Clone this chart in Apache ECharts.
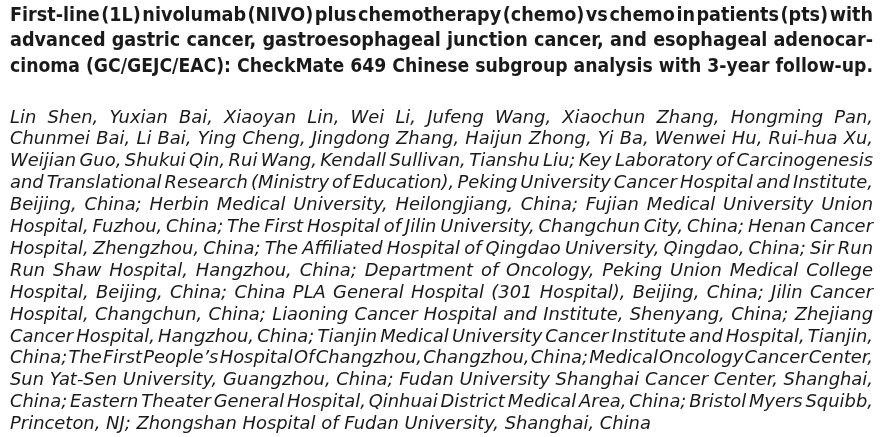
<!DOCTYPE html>
<html><head><meta charset="utf-8">
<script src="https://cdn.jsdelivr.net/npm/echarts@6/dist/echarts.min.js"></script>
<style>html,body{margin:0;padding:0;background:#fff}#c{width:883px;height:437px}</style>
</head><body><div id="c"></div>
<script>
var titleLines = [
"First-line (1L) nivolumab (NIVO) plus chemotherapy (chemo) vs chemo in patients (pts) with",
"advanced gastric cancer, gastroesophageal junction cancer, and esophageal adenocar-",
"cinoma (GC/GEJC/EAC): CheckMate 649 Chinese subgroup analysis with 3-year follow-up."
];
var bodyLines = [
"Lin Shen, Yuxian Bai, Xiaoyan Lin, Wei Li, Jufeng Wang, Xiaochun Zhang, Hongming Pan,",
"Chunmei Bai, Li Bai, Ying Cheng, Jingdong Zhang, Haijun Zhong, Yi Ba, Wenwei Hu, Rui-hua Xu,",
"Weijian Guo, Shukui Qin, Rui Wang, Kendall Sullivan, Tianshu Liu; Key Laboratory of Carcinogenesis",
"and Translational Research (Ministry of Education), Peking University Cancer Hospital and Institute,",
"Beijing, China; Herbin Medical University, Heilongjiang, China; Fujian Medical University Union",
"Hospital, Fuzhou, China; The First Hospital of Jilin University, Changchun City, China; Henan Cancer",
"Hospital, Zhengzhou, China; The Affiliated Hospital of Qingdao University, Qingdao, China; Sir Run",
"Run Shaw Hospital, Hangzhou, China; Department of Oncology, Peking Union Medical College",
"Hospital, Beijing, China; China PLA General Hospital (301 Hospital), Beijing, China; Jilin Cancer",
"Hospital, Changchun, China; Liaoning Cancer Hospital and Institute, Shenyang, China; Zhejiang",
"Cancer Hospital, Hangzhou, China; Tianjin Medical University Cancer Institute and Hospital, Tianjin,",
"China; The First People\u2019s Hospital Of Changzhou, Changzhou, China; Medical Oncology Cancer Center,",
"Sun Yat-Sen University, Guangzhou, China; Fudan University Shanghai Cancer Center, Shanghai,",
"China; Eastern Theater General Hospital, Qinhuai District Medical Area, China; Bristol Myers Squibb,",
"Princeton, NJ; Zhongshan Hospital of Fudan University, Shanghai, China"
];
var FAM = '"Liberation Sans Narrow","DejaVu Sans Condensed","Liberation Sans",sans-serif';
var titleFont = 'bold 19px ' + FAM, bodyFont = 'italic 17.5px ' + FAM;
var L = 10, R = 873;
var cv = document.createElement('canvas').getContext('2d');
function layout(lines, font, y0, dy, color) {
  cv.font = font;
  var sp = cv.measureText(' ').width;
  var info = lines.map(function(line){
    var ws = line.split(' ');
    var widths = ws.map(function(w){ return cv.measureText(w).width; });
    var tot = widths.reduce(function(a,b){return a+b;},0);
    return {ws:ws, widths:widths, tot:tot, nat: tot + sp*(ws.length-1)};
  });
  var scales = info.slice(0,-1).map(function(o){ return (R-L)/o.nat; }).sort(function(a,b){return a-b;});
  var med = scales[Math.floor(scales.length/2)];
  var out = [];
  info.forEach(function(o, i){
    var last = i === info.length-1;
    var s = last ? Math.min(med, (R-L)/o.nat) : med;
    var gap = last ? sp*s : ((R-L) - o.tot*s)/(o.ws.length-1);
    var x = L, y = y0 + i*dy;
    o.ws.forEach(function(w, k){
      out.push({type:'text', x:x, y:y, scaleX:s, style:{text:w, font:font, fill:color, textVerticalAlign:'middle'}});
      x += o.widths[k]*s + gap;
    });
  });
  return out;
}
var els = layout(titleLines, titleFont, 16, 25.5, '#1a1a1a').concat(layout(bodyLines, bodyFont, 118, 21.9, '#1a1a1a'));
var chart = echarts.init(document.getElementById('c'));
chart.setOption({ backgroundColor:'#fff', graphic: els });
</script></body></html>
